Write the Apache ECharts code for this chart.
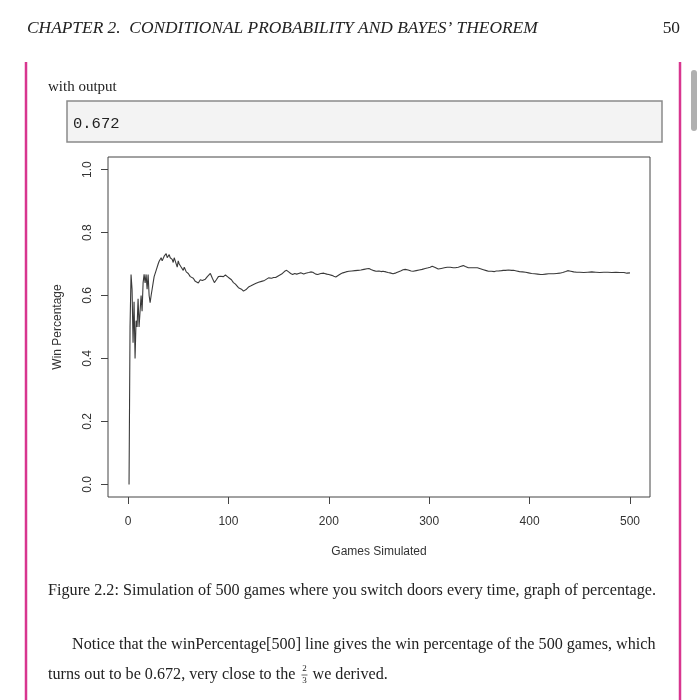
<!DOCTYPE html>
<html>
<head>
<meta charset="utf-8">
<script src="https://cdn.jsdelivr.net/npm/echarts@6/dist/echarts.min.js"></script>
<style>
html,body{margin:0;padding:0;background:#fff;}
#c{width:698px;height:700px;}
</style>
</head>
<body>
<div id="c"></div>
<script>
// ---- data ----
const games = [1,2,3,4,5,6,7,8,9,10,11,12,13,14,15,16,17,18,19,20,21,22,23,24,25,26,28,30,31,33,34,36,38,39,40,41,42,44,45,46,47,49,50,51,53,55,56,58,60,62,63,65,67,70,72,74,75,77,79,82,84,86,88,90,92,95,97,99,101,103,105,107,110,113,115,118,120,122,125,127,130,133,136,138,140,143,145,147,150,153,156,158,160,162,164,166,168,170,172,175,177,180,182,184,187,189,192,195,198,200,203,205,207,210,212,214,217,220,223,226,229,232,235,238,240,242,245,247,250,252,254,257,259,261,264,267,269,272,274,276,279,282,284,287,290,293,296,299,301,303,306,309,312,315,318,321,324,326,329,331,334,336,339,342,345,348,351,354,357,359,362,365,367,369,372,374,376,379,382,384,387,390,393,396,399,402,405,408,411,413,416,419,421,424,427,430,433,436,438,441,444,447,450,454,458,462,466,470,474,478,482,486,490,494,497,500];
const winPct = [0.0,0.5,0.667,0.62,0.45,0.58,0.40,0.52,0.50,0.59,0.50,0.55,0.60,0.55,0.64,0.667,0.64,0.667,0.62,0.667,0.60,0.577,0.60,0.62,0.64,0.66,0.68,0.70,0.709,0.72,0.71,0.725,0.733,0.72,0.715,0.73,0.72,0.715,0.705,0.72,0.71,0.69,0.71,0.70,0.69,0.68,0.69,0.675,0.67,0.66,0.657,0.655,0.645,0.64,0.65,0.648,0.654,0.652,0.66,0.67,0.655,0.641,0.65,0.66,0.661,0.66,0.665,0.66,0.655,0.65,0.641,0.636,0.625,0.62,0.614,0.62,0.627,0.63,0.635,0.638,0.642,0.645,0.648,0.652,0.656,0.655,0.657,0.657,0.663,0.668,0.677,0.68,0.675,0.67,0.667,0.67,0.668,0.67,0.672,0.668,0.671,0.673,0.675,0.674,0.668,0.667,0.67,0.671,0.668,0.667,0.664,0.661,0.659,0.665,0.669,0.672,0.675,0.677,0.678,0.679,0.680,0.681,0.683,0.685,0.686,0.683,0.679,0.677,0.678,0.676,0.677,0.675,0.673,0.672,0.669,0.672,0.675,0.679,0.682,0.683,0.681,0.678,0.677,0.679,0.681,0.683,0.686,0.688,0.690,0.693,0.689,0.684,0.686,0.688,0.690,0.690,0.688,0.688,0.690,0.692,0.695,0.692,0.688,0.688,0.688,0.688,0.685,0.682,0.679,0.677,0.677,0.676,0.678,0.678,0.679,0.680,0.680,0.681,0.680,0.680,0.678,0.676,0.675,0.674,0.672,0.670,0.669,0.668,0.667,0.667,0.668,0.669,0.669,0.669,0.670,0.671,0.673,0.676,0.679,0.677,0.675,0.674,0.674,0.673,0.674,0.675,0.674,0.673,0.674,0.674,0.673,0.674,0.673,0.673,0.671,0.672];
const xTicks = [0,100,200,300,400,500];
const yTicks = [0,0.2,0.4,0.6,0.8,1.0];
const yTickLabels = ['0.0','0.2','0.4','0.6','0.8','1.0'];
const xTitle = 'Games Simulated';
const yTitle = 'Win Percentage';
const header = 'CHAPTER 2.  CONDITIONAL PROBABILITY AND BAYES\u2019 THEOREM';
const pageNo = '50';
const lead = 'with output';
const outputText = '0.672';
const caption = 'Figure 2.2: Simulation of 500 games where you switch doors every time, graph of percentage.';
const para1 = 'Notice that the winPercentage[500] line gives the win percentage of the 500 games, which';
const para2a = 'turns out to be 0.672, very close to the';
const para2b = 'we derived.';

// ---- helpers ----
const mctx = document.createElement('canvas').getContext('2d');
function measure(txt, font){ mctx.font = font; return mctx.measureText(txt).width; }
function fitSize(txt, family, style, target){
  const w = measure(txt, style + ' 100px ' + family);
  return 100 * target / w;
}
const serif = '"Liberation Serif", "DejaVu Serif", serif';
const sans = '"Liberation Sans", Arial, sans-serif';
const mono = '"Liberation Mono", "DejaVu Sans Mono", monospace';

const hdrSize = fitSize(header, serif, 'italic', 511);
const capSize = fitSize(caption, serif, 'normal', 608);
const paraSize = fitSize(para1, serif, 'normal', 584);
const leadSize = 15;
const paraFont = paraSize.toFixed(2) + 'px ' + serif;
const w2a = measure(para2a + ' ', paraFont);
const fracX = 48 + w2a + 2;

function txt(text, x, y, font, align, color, extra){
  return Object.assign({
    type:'text', silent:true,
    style:{text:text, x:x, y:y, font:font, fill:color||'#222',
      textAlign:align||'left', textVerticalAlign:'middle', align:align||'left', verticalAlign:'middle'}
  }, extra||{});
}

const chart = echarts.init(document.getElementById('c'), null, {renderer:'canvas'});
const seriesData = games.map((g,i)=>[g, winPct[i]]);

chart.setOption({
  backgroundColor:'#fff',
  animation:false,
  grid:{left:108, top:157, width:542, height:340, show:true, borderColor:'#444', borderWidth:1, backgroundColor:'transparent'},
  xAxis:{
    type:'value', min:-19.96, max:519.96,
    axisLine:{show:false, onZero:false}, splitLine:{show:false},
    axisTick:{show:true, inside:false, length:7, lineStyle:{color:'#444'}, customValues:xTicks},
    axisLabel:{show:true, margin:19, fontFamily:sans, fontSize:12, color:'#333', customValues:xTicks,
      formatter:(v)=>String(v)}
  },
  yAxis:{
    type:'value', min:-0.04, max:1.04,
    axisLine:{show:false, onZero:false}, splitLine:{show:false},
    axisTick:{show:true, inside:false, length:7, lineStyle:{color:'#444'}, customValues:yTicks},
    axisLabel:{show:true, margin:14, rotate:90, fontFamily:sans, fontSize:12, color:'#333', customValues:yTicks,
      formatter:(v)=>{ const i = yTicks.findIndex(t=>Math.abs(t-v)<1e-9); return i>=0?yTickLabels[i]:''; }}
  },
  series:[{
    type:'line', data:seriesData, showSymbol:false, symbol:'none', clip:true,
    lineStyle:{color:'#3a3a3a', width:1.1}, silent:true
  }],
  graphic:[
    txt(header, 27, 28, 'italic ' + hdrSize.toFixed(2) + 'px ' + serif, 'left', '#222'),
    txt(pageNo, 680, 28, hdrSize.toFixed(2) + 'px ' + serif, 'right', '#222'),
    {type:'line', silent:true, shape:{x1:26,y1:62,x2:26,y2:700}, style:{stroke:'#d8368f', lineWidth:2.5}},
    {type:'line', silent:true, shape:{x1:680,y1:62,x2:680,y2:700}, style:{stroke:'#d8368f', lineWidth:2.5}},
    {type:'rect', silent:true, shape:{x:691,y:70,width:6,height:61,r:3}, style:{fill:'#b0b0b0'}},
    txt(lead, 48, 87, leadSize + 'px ' + serif, 'left', '#222'),
    {type:'rect', silent:true, shape:{x:67,y:101,width:595,height:41}, style:{fill:'#f3f3f3', stroke:'#8a8a8a', lineWidth:1.5}},
    txt(outputText, 73, 124, '15.5px ' + mono, 'left', '#222'),
    {type:'text', silent:true, x:58, y:327, rotation:Math.PI/2,
      style:{text:yTitle, x:0, y:0, font:'12px ' + sans, fill:'#333', textAlign:'center', textVerticalAlign:'middle', align:'center', verticalAlign:'middle'}},
    txt(xTitle, 379, 552, '12px ' + sans, 'center', '#333'),
    txt(caption, 48, 591, capSize.toFixed(2) + 'px ' + serif, 'left', '#222'),
    txt(para1, 72, 645, paraFont, 'left', '#222'),
    txt(para2a, 48, 675, paraFont, 'left', '#222'),
    txt('2', fracX + 3, 669, '9px ' + serif, 'center', '#222'),
    {type:'line', silent:true, shape:{x1:fracX, y1:675, x2:fracX+6, y2:675}, style:{stroke:'#222', lineWidth:0.7}},
    txt('3', fracX + 3, 681, '9px ' + serif, 'center', '#222'),
    txt(para2b, fracX + 11, 675, paraFont, 'left', '#222')
  ]
});
</script>
</body>
</html>
